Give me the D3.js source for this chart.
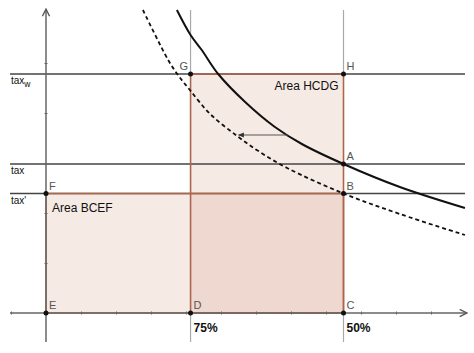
<!DOCTYPE html>
<html>
<head>
<meta charset="utf-8">
<script src="https://cdn.jsdelivr.net/npm/d3@7"></script>
<style>
  body { margin: 0; background: #fff; }
  text { font-family: "Liberation Sans", Arial, sans-serif; }
</style>
</head>
<body>
<script>
var w = 474,
    h = 353;

// tax levels (y units) and quantity levels (x units)
var taxLevels = [
  { name: 'tax', sub: 'w', value: 4.78 },
  { name: 'tax', sub: '', value: 2.98 },
  { name: "tax'", sub: '', value: 2.39 }
];
var quantityLevels = [
  { name: '75%', value: 4.13 },
  { name: '50%', value: 8.5 }
];

// demand curves
var curveSolid = [
  [3.74, 6.06], [4.13, 5.56], [4.45, 5.26], [4.92, 4.78], [5.69, 4.22],
  [6.54, 3.72], [7.31, 3.38], [8.5, 2.98], [10.11, 2.52], [11.97, 2.1]
];
var curveDashed = [
  [2.77, 6.06], [3.49, 5.06], [3.77, 4.76], [4.11, 4.46], [4.69, 3.98],
  [5.46, 3.54], [6.11, 3.22], [6.89, 2.9], [8.5, 2.39], [10.11, 1.98],
  [11.97, 1.56]
];

// labelled points
var points = [
  { name: 'A', x: 8.5, y: 2.98 },
  { name: 'B', x: 8.5, y: 2.39 },
  { name: 'C', x: 8.5, y: 0 },
  { name: 'D', x: 4.13, y: 0 },
  { name: 'E', x: 0, y: 0 },
  { name: 'F', x: 0, y: 2.39 },
  { name: 'G', x: 4.13, y: 4.78 },
  { name: 'H', x: 8.5, y: 4.78 }
];

// shaded areas
var areas = [
  { name: 'Area HCDG', x0: 4.13, x1: 8.5, y0: 0, y1: 4.78 },
  { name: 'Area BCEF', x0: 0, x1: 8.5, y0: 0, y1: 2.39 }
];

var arrowShift = { from: 6.92, to: 5.5, y: 3.56 };

var x = d3.scaleLinear().domain([-1, 12]).range([11, 466]);
var y = d3.scaleLinear().domain([0, 6]).range([313, 13]);

var svg = d3.select('body')
            .append('svg')
            .attr('width', w)
            .attr('height', h);

var defs = svg.append('defs');
defs.append('marker')
    .attr('id', 'head')
    .attr('viewBox', '0 0 10 10')
    .attr('refX', 8).attr('refY', 5)
    .attr('markerWidth', 6).attr('markerHeight', 6)
    .attr('orient', 'auto')
    .append('path')
    .attr('d', 'M1,1 L9,5 L1,9')
    .style('fill', 'none')
    .style('stroke', '#555')
    .style('stroke-width', 1.5);

defs.append('marker')
    .attr('id', 'tri')
    .attr('viewBox', '0 0 10 10')
    .attr('refX', 9).attr('refY', 5)
    .attr('markerWidth', 7).attr('markerHeight', 6)
    .attr('markerUnits', 'userSpaceOnUse')
    .attr('orient', 'auto')
    .append('path')
    .attr('d', 'M0,1 L10,5 L0,9 Z')
    .style('fill', '#333');

// rectangles
svg.selectAll('rect.area')
   .data(areas)
   .enter()
   .append('rect')
   .attr('class', 'area')
   .attr('x', function(d) { return x(d.x0); })
   .attr('y', function(d) { return y(d.y1); })
   .attr('width', function(d) { return x(d.x1) - x(d.x0); })
   .attr('height', function(d) { return y(d.y0) - y(d.y1); })
   .style('fill', '#c97a5c')
   .style('fill-opacity', 0.16);

// gray vertical guides
svg.selectAll('line.vguide')
   .data(quantityLevels)
   .enter()
   .append('line')
   .attr('x1', function(d) { return x(d.value); })
   .attr('x2', function(d) { return x(d.value); })
   .attr('y1', y(6.06))
   .attr('y2', 342)
   .style('stroke', '#aaa')
   .style('stroke-width', 1.2);

// horizontal tax lines
svg.selectAll('line.tax')
   .data(taxLevels)
   .enter()
   .append('line')
   .attr('x1', 10)
   .attr('x2', 465)
   .attr('y1', function(d) { return y(d.value); })
   .attr('y2', function(d) { return y(d.value); })
   .style('stroke', '#444')
   .style('stroke-width', 1.3);

// rectangle outlines
svg.selectAll('rect.outline')
   .data(areas)
   .enter()
   .append('rect')
   .attr('x', function(d) { return x(d.x0); })
   .attr('y', function(d) { return y(d.y1); })
   .attr('width', function(d) { return x(d.x1) - x(d.x0); })
   .attr('height', function(d) { return y(d.y0) - y(d.y1); })
   .style('fill', 'none')
   .style('stroke', '#b0644a')
   .style('stroke-width', 1.5);

// axes
var xAxis = d3.axisBottom(x).tickValues(d3.range(-1, 12)).tickSize(3).tickFormat('');
var yAxis = d3.axisLeft(y).tickValues(d3.range(0, 6)).tickSize(3).tickFormat('');

var gx = svg.append('g').attr('transform', 'translate(0,' + y(0) + ')').call(xAxis);
gx.select('.domain').remove();
gx.selectAll('line').attr('transform', 'translate(0,-1.5)').style('stroke', '#666');
gx.append('line')
  .attr('x1', 10).attr('x2', 466)
  .style('stroke', '#666').style('stroke-width', 1.5)
  .attr('marker-end', 'url(#head)');

var gy = svg.append('g').attr('transform', 'translate(' + x(0) + ',0)').call(yAxis);
gy.select('.domain').remove();
gy.selectAll('line').attr('transform', 'translate(1.5,0)').style('stroke', '#666');
gy.append('line')
  .attr('y1', 342).attr('y2', 10)
  .style('stroke', '#666').style('stroke-width', 1.5)
  .attr('marker-end', 'url(#head)');

// curves
var line = d3.line()
             .x(function(d) { return x(d[0]); })
             .y(function(d) { return y(d[1]); })
             .curve(d3.curveCatmullRom.alpha(0.5));

svg.append('path')
   .attr('d', line(curveSolid))
   .style('fill', 'none')
   .style('stroke', '#111')
   .style('stroke-width', 2);

svg.append('path')
   .attr('d', line(curveDashed))
   .style('fill', 'none')
   .style('stroke', '#111')
   .style('stroke-width', 1.8)
   .style('stroke-dasharray', '4,3');

// shift arrow
svg.append('line')
   .attr('x1', x(arrowShift.from))
   .attr('x2', x(arrowShift.to))
   .attr('y1', y(arrowShift.y))
   .attr('y2', y(arrowShift.y))
   .style('stroke', '#555')
   .style('stroke-width', 1.2)
   .attr('marker-end', 'url(#tri)');

// points
svg.selectAll('circle')
   .data(points)
   .enter()
   .append('circle')
   .attr('cx', function(d) { return x(d.x); })
   .attr('cy', function(d) { return y(d.y); })
   .attr('r', 2.5)
   .style('fill', '#111');

svg.selectAll('text.pt')
   .data(points)
   .enter()
   .append('text')
   .attr('x', function(d) { return x(d.x) + (d.name === 'G' ? -11 : 3); })
   .attr('y', function(d) { return y(d.y) - 4; })
   .style('font-size', '11px')
   .style('fill', '#555')
   .text(function(d) { return d.name; });

// area labels
svg.append('text')
   .attr('x', x(areas[0].x1) - 5)
   .attr('y', y(areas[0].y1) + 16)
   .attr('text-anchor', 'end')
   .style('font-size', '12px')
   .style('fill', '#111')
   .text(areas[0].name);

svg.append('text')
   .attr('x', x(areas[1].x0) + 6)
   .attr('y', y(areas[1].y1) + 18)
   .style('font-size', '12px')
   .style('fill', '#111')
   .text(areas[1].name);

// tax labels
var tl = svg.selectAll('text.tax')
   .data(taxLevels)
   .enter()
   .append('text')
   .attr('x', 11)
   .attr('y', function(d) { return y(d.value) + 10; })
   .style('font-size', '10px')
   .style('fill', '#111')
   .text(function(d) { return d.name; });
tl.filter(function(d) { return d.sub; })
  .append('tspan')
  .attr('dy', 3)
  .style('font-size', '8.5px')
  .text(function(d) { return d.sub; });

// quantity labels
svg.selectAll('text.q')
   .data(quantityLevels)
   .enter()
   .append('text')
   .attr('x', function(d) { return x(d.value) + 3; })
   .attr('y', y(0) + 19)
   .style('font-size', '12px')
   .style('font-weight', 'bold')
   .style('fill', '#111')
   .text(function(d) { return d.name; });
</script>
</body>
</html>
